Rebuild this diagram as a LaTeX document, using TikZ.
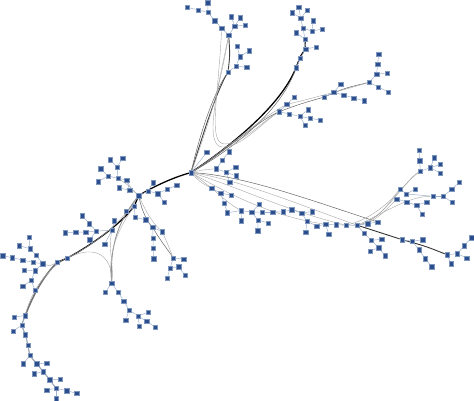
\documentclass[tikz,border=0pt]{standalone}
\usepackage{tikz}
\usetikzlibrary{arrows}
\definecolor{leafblue}{RGB}{44,78,140}
\definecolor{leafrim}{RGB}{125,150,190}
\definecolor{twigblue}{RGB}{160,178,205}
\pgfdeclarelayer{back}
\pgfsetlayers{back,main}
\tikzset{%
  leaf/.style={rectangle,fill=leafblue,draw=leafrim,line width=0.3pt,
    inner sep=0pt,minimum size=4.4pt},%
  twig/.style={twigblue,line width=0.5pt},%
  trunk/.style={black,line width=1.3pt,line cap=round},%
  strand/.style={black!60,line width=0.5pt},%
  faint/.style={black!35,line width=0.4pt}%
}

\begin{document}
\begin{tikzpicture}[x=1pt,y=-1pt]
\useasboundingbox (0,0) rectangle (474,401);

% trunk
\foreach \n/\x/\y in {r/191/172.5, t2/138.7/195.5, t3/67.4/258, t4/57.4/262.2}
  \node[leaf] (\n) at (\x,\y) {};
% top left branch
\foreach \n/\x/\y in {a1/228/72, a2/236/66, a3/246.7/67.3, a4/240/56.7, a5/237/46,
  a6/249/50.7, a7/228.7/35.3, a8/221.7/28, a9/214.7/20.7, a10/208/12.3, a11/207.7/2.5,
  a12/198/10, a13/187.3/7.3, a14/234.7/26.3, a15/231.3/16.7, a16/240/17.7, a17/245/25}
  \node[leaf] (\n) at (\x,\y) {};
% top right branch
\foreach \n/\x/\y in {b1/296/67.7, b2/300.3/58.3, b3/305.5/49, b4/316/47, b5/305/39,
  b6/303/28.3, b7/300.7/18, b8/298.7/7.3, b9/307.3/10, b10/292/12.7, b11/312.3/31,
  b12/313/20.7, b13/322.3/29, b14/296/32.7}
  \node[leaf] (\n) at (\x,\y) {};
\foreach \n/\x/\y in {c1/279/111.7, c2/286.7/104.4, c3/294.2/97.3, c4/289.3/114,
  c5/300/116.3, c6/310/118.3, c7/320.3/120, c8/308/109.5, c9/305/125.3, c10/324.3/97,
  c11/333.7/92.3, c12/340.7/84.3, c13/343.7/95, c14/353.7/98, c15/364/100.7,
  c16/369.3/82.3, c17/376.5/74.3, c18/377.7/64.3, c19/378.7/54, c20/387/73,
  c21/378.3/87, c22/388/92}
  \node[leaf] (\n) at (\x,\y) {};
% middle
\foreach \n/\x/\y in {d1/206.7/152.3, d2/229/151.7, d3/222.3/160.3, d4/216.3/168.7,
  d5/235.5/167.2, d6/226/172.3, d7/236/175.8, d8/229.7/182.3,
  e1/211.7/188.3, e2/220.7/193.3, e3/231.2/195, e4/224.2/203, e5/227.3/212.8,
  e6/241.2/210.5, e7/251.8/212.2, e8/259/204.3, e9/262/212, e10/272.5/212,
  e11/283.2/211.8, e12/258/220, e13/268/223, e14/257.7/230.7, e15/241.3/220.7,
  f1/291.5/209.7, f2/301.5/213, f3/312/211.5, f4/307/221.3, f5/305.7/232.3,
  f6/316.7/226, f7/325.7/224.3, f8/336/224.7, f9/346.3/225.2, f10/357.3/225.3,
  f11/367.7/223.7, f12/377.7/222, f13/328.7/234.3}
  \node[leaf] (\n) at (\x,\y) {};
% right branch
\foreach \n/\x/\y in {g1/364/233.3, g2/371.3/240.3, g3/381.7/239.3, g4/378.7/247.7,
  g5/385.3/255.7, g6/370.3/251, g8/396.7/199, g9/406.7/202, g10/416.7/205.3,
  g11/426.7/202, g12/422/214.3, g13/400/189, g14/406.3/194, g15/415.3/189,
  g16/433/196.3, g17/443.3/196.3, g18/451.7/189.3, g19/459.3/182.3, g20/452/202.3,
  g21/420.3/171.3, g22/419.7/160.7, g23/419/150.3, g24/430.3/167.7, g25/434.3/157.7,
  g26/440.3/164.3, g27/440/173, g28/402/239.7, g29/412.3/241.3, g30/422.7/239.7,
  g31/419/249.7, g32/425.3/258.7, g33/431.7/266.7, g34/447/254.7, g35/457.3/253.7,
  g36/464.3/245.7, g37/471.5/237.7, g38/466.7/258, g39/451/263.7}
  \node[leaf] (\n) at (\x,\y) {};
% left side
\foreach \n/\x/\y in {h1/129.7/190.3, h2/119/187.7, h3/98.3/181.7, h4/126.7/180,
  h5/118/178.3, h6/108/176, h7/100.7/168.7, h8/117/167.3, h9/110.3/159.7,
  h10/122.7/158.3, k1/148/191, k2/153/182.7, k3/157.7/193.5, k4/167/189.3,
  k5/176.5/185.3, k6/164.2/202,
  i1/134.3/206, i2/126/211, i3/135/217.3, i4/145.5/219.8, i5/152.7/227.2,
  i6/162/231.5, i7/153/238, i8/153.3/248.2, i9/153.5/258.5, i10/173.3/258,
  i11/183.8/259, i12/170/268.3, i13/167.3/278, i14/178.7/266.7, i15/185/275.3,
  j1/114.3/220.7, j2/112/230.3, j3/104.5/244.3, j4/82.3/215.7, j5/89.3/223.7,
  j6/96.3/231, j7/85.8/232, j8/75.5/232.3, j9/65/232.8, j10/89.8/239.7}
  \node[leaf] (\n) at (\x,\y) {};
\foreach \n/\x/\y in {l1/42.7/263.7, l2/33/262.3, l3/22.7/260, l4/12.3/257.7,
  l5/2.5/255.7, l6/36.3/255.3, l7/30/248.7, l8/29/237.3, l9/19.3/245.7, l10/35/270.7,
  l11/24.3/270, l12/31.3/280.3, l13/22.7/286.3, l14/35/290.3,
  m1/111.7/283.3, m2/105.2/292, m3/118/292, m4/123.7/301, m5/129.3/310, m6/138/316,
  m7/148/312.3, m8/146.7/321.3, m9/155.3/327.3, m10/139.3/326, m11/125.7/320,
  n1/25.3/315.5, n2/14.3/317, n3/22/325, n4/13.3/331, n5/25.3/334.7, n6/28/345.3,
  n7/30/355.3, n8/23.3/363.7, n9/36.7/363.7, n10/46.7/363.3, n11/43.3/371.7,
  n12/34/373.7, n13/49.7/379.7, n14/60.3/379.3, n15/56/388.3, n16/66.7/390.7,
  n17/76.7/393.3, n18/46.7/390, n19/56/398.7}
  \node[leaf] (\n) at (\x,\y) {};

\begin{pgfonlayer}{back}
% bundles
\draw[strand,line width=1.6pt,black!55] (n1) .. controls (34,293) and (44,276) .. (t4);
\draw[faint] (n1) .. controls (31,292) and (46,270) .. (t3);
\draw[strand,line width=1pt,black!40] plot[smooth] coordinates {(n1) (n3) (n5) (n6) (n7) (n9) (n11) (n13) (n15)};
\draw[trunk] (t4) -- (t3) .. controls (95,243) and (122,222) .. (i1) -- (t2)
  .. controls (155,186) and (172,178) .. (r);
\draw[faint] (t4) .. controls (96,246) and (125,218) .. (t2);
\draw[trunk] (r) .. controls (235,143) and (280,105) .. (b1) .. controls (301,55) .. (b3) -- (b5);
\draw[strand] (r) .. controls (238,146) and (282,108) .. (b1);

\draw[strand,line width=0.9pt,black!75] (r) .. controls (203,135) and (215,95) .. (a1)
  .. controls (230,55) .. (a7);
\draw[strand] (r) .. controls (199,138) and (212,96) .. (a1);
\draw[faint] (r) .. controls (206,132) and (219,92) .. (a7);
\draw[faint] (a7) .. controls (215,100) and (205,145) .. (222,147)
  .. controls (240,148) and (260,125) .. (c1);
\draw[faint] (a8) .. controls (218,100) and (208,142) .. (224,144)
  .. controls (242,144) and (262,122) .. (c1);

\draw[strand] (r) .. controls (225,152) and (255,123) .. (c1) .. controls (300,104) .. (c10)
  .. controls (345,88) .. (c16);
\draw[faint] (r) .. controls (228,148) and (258,120) .. (c2) .. controls (305,100) .. (c11)
  .. controls (350,88) .. (c16);

\draw[faint] (r) .. controls (240,180) and (300,205) .. (f10);
\draw[faint] (r) .. controls (235,186) and (290,212) .. (f9);
\draw[strand] (r) .. controls (245,176) and (310,200) .. (f12);
\draw[faint] (r) .. controls (225,192) and (270,216) .. (f7);
\draw[strand,line width=0.9pt,black!80] (f10) .. controls (380,232) .. (g28)
  .. controls (425,246) .. (g34);
\draw[faint] (f10) .. controls (380,220) and (392,198) .. (g13);
\draw[faint] (f10) .. controls (385,218) and (405,180) .. (g21);
\draw[faint] (f9) .. controls (385,215) and (405,182) .. (g21);
\draw[faint] (f10) .. controls (385,212) and (410,196) .. (g16);
\draw[faint] (f11) .. controls (382,214) .. (g8);

\draw[strand] (t2) .. controls (142,212) and (148,222) .. (i5)
  .. controls (160,240) and (168,250) .. (i10);
\draw[faint] (t2) .. controls (146,212) and (152,222) .. (i6) .. controls (166,240) .. (i10);
\draw[strand,line width=0.8pt,black!45] (t2) .. controls (118,222) and (110,245) .. (m1);
\draw[faint] (j2) .. controls (108,250) and (114,265) .. (m1);
\draw[faint] (t3) .. controls (95,245) and (112,255) .. (m1);
\draw[faint] (i1) .. controls (116,232) and (108,255) .. (m1);
\draw[faint] (t2) .. controls (132,190) .. (h4);
\draw[faint] (t2) .. controls (128,185) .. (h5);
\draw[faint] (t4) .. controls (50,266) .. (l1);
\draw[faint] (r) .. controls (202,170) .. (d4);
\draw[faint] (r) .. controls (200,182) .. (e1);
\draw[faint] (r) .. controls (215,190) and (230,205) .. (e6);

% edges
\foreach \u/\v in {a1/a2, a2/a3, a2/a4, a4/a5, a4/a6, a7/a8, a8/a9, a9/a10, a10/a11,
  a10/a12, a12/a13, a7/a14, a14/a15, a14/a16, a14/a17,
  b1/b2, b2/b3, b3/b4, b3/b5, b5/b6, b6/b7, b7/b8, b7/b9, b7/b10, b6/b11, b11/b12,
  b11/b13, b5/b14,
  c1/c2, c2/c3, c1/c4, c4/c5, c5/c6, c6/c7, c5/c8, c5/c9, c10/c11, c11/c12, c11/c13,
  c13/c14, c14/c15, c16/c17, c17/c18, c18/c19, c17/c20, c16/c21, c21/c22,
  r/d1, d4/d3, d3/d2, d4/d6, d6/d5, d6/d7, d6/d8,
  e1/e2, e2/e3, e2/e4, e4/e5, e5/e6, e6/e7, e7/e8, e7/e9, e9/e10, e10/e11, e7/e12,
  e12/e13, e12/e14, e6/e15,
  e11/f1, f1/f2, f2/f3, f2/f4, f4/f5, f4/f6, f6/f7, f7/f8, f8/f9, f9/f10, f10/f11,
  f11/f12, f7/f13,
  f10/g1, g1/g2, g2/g3, g2/g4, g4/g5, g4/g6, g8/g9, g9/g10, g10/g11, g10/g12,
  g13/g14, g14/g15, g14/g16, g16/g17, g17/g18, g18/g19, g17/g20, g21/g22, g22/g23,
  g21/g24, g24/g25, g24/g26, g24/g27, g28/g29, g29/g30, g29/g31, g31/g32, g32/g33,
  g34/g35, g35/g36, g36/g37, g35/g38, g34/g39}
  \draw[twig] (\u) -- (\v);
\foreach \u/\v in {h1/h2, h1/h4, h4/h5, h5/h6, h6/h3, h6/h7, h5/h8, h8/h9, h8/h10,
  t2/k1, k1/k2, k1/k3, k3/k4, k4/k5, k3/k6,
  i1/i2, i1/i3, i3/i4, i4/i5, i5/i6, i5/i7, i7/i8, i8/i9, i10/i11, i10/i12, i12/i13,
  i12/i14, i14/i15,
  j4/j5, j5/j6, j6/j7, j7/j8, j8/j9, j6/j10, j6/j2, j2/j1, j2/j3,
  l1/l2, l2/l3, l3/l4, l4/l5, l1/l6, l6/l7, l7/l8, l7/l9, l1/l10, l10/l11, l10/l12,
  l12/l13, l12/l14,
  m1/m2, m1/m3, m3/m4, m4/m5, m5/m6, m6/m7, m6/m8, m8/m9, m6/m10, m5/m11,
  n1/n2, n1/n3, n3/n4, n3/n5, n5/n6, n6/n7, n7/n8, n7/n9, n9/n10, n9/n11, n11/n12,
  n11/n13, n13/n14, n13/n15, n15/n16, n16/n17, n15/n18, n15/n19}
  \draw[twig] (\u) -- (\v);
\end{pgfonlayer}
\end{tikzpicture}
\end{document}
